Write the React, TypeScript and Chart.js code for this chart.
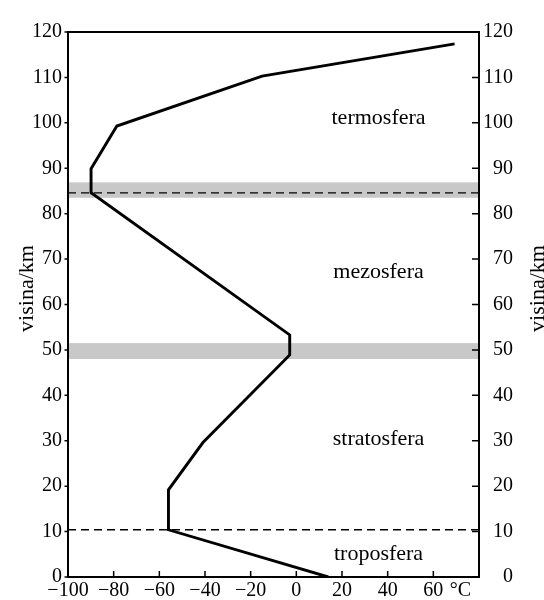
import React, { useEffect, useRef } from 'react';
import Chart from 'chart.js/auto';

// temperature profile of the atmosphere (°C vs km)
const temps = [14, -56, -56, -40.9, -2.9, -2.9, -89.9, -89.9, -78.6, -15, 69.3];
const heights = [0, 10.4, 19.2, 29.6, 48.9, 53.3, 84.6, 89.9, 99.3, 110.3, 117.4];

// grey transition bands (km)
const bandLow = [83.5, 48.0];
const bandHigh = [86.9, 51.5];
// dashed boundaries (km)
const dashedHeights = [84.6, 10.4];

// layer names and where they sit (°C, km baseline)
const layerNames = ['termosfera', 'mezosfera', 'stratosfera', 'troposfera'];
const layerTemps = [36, 36, 36, 36];
const layerHeights = [99.7, 65.8, 29.1, 3.8];

const axisTitle = 'visina/km';
const unitLabel = '°C';

const FONT = '"Liberation Serif", "Times New Roman", serif';

const atmospherePlugin = {
  id: 'atmosphere',
  beforeDatasetsDraw(chart: any) {
    const { ctx, chartArea: a, scales } = chart;
    const y = scales.y;
    ctx.save();
    ctx.fillStyle = '#c8c8c8';
    bandLow.forEach((lo, i) => {
      const top = y.getPixelForValue(bandHigh[i]);
      const bottom = y.getPixelForValue(lo);
      ctx.fillRect(a.left, top, a.right - a.left, bottom - top);
    });
    ctx.strokeStyle = '#000';
    ctx.lineWidth = 1.3;
    ctx.setLineDash([8, 5]);
    dashedHeights.forEach((h) => {
      const py = y.getPixelForValue(h);
      ctx.beginPath();
      ctx.moveTo(a.left, py);
      ctx.lineTo(a.right, py);
      ctx.stroke();
    });
    ctx.restore();
  },
  afterDatasetsDraw(chart: any) {
    const { ctx, chartArea: a, scales } = chart;
    const { x, y, y2 } = scales;
    ctx.save();
    ctx.strokeStyle = '#000';
    ctx.lineWidth = 2;
    ctx.strokeRect(a.left, a.top, a.right - a.left, a.bottom - a.top);

    ctx.lineWidth = 1.5;
    ctx.beginPath();
    x.ticks.forEach((t: any) => {
      const px = x.getPixelForValue(t.value);
      ctx.moveTo(px, a.bottom);
      ctx.lineTo(px, a.bottom - 6);
    });
    y.ticks.forEach((t: any) => {
      const py = y.getPixelForValue(t.value);
      ctx.moveTo(a.left - 3.5, py);
      ctx.lineTo(a.left, py);
    });
    y2.ticks.forEach((t: any) => {
      const py = y2.getPixelForValue(t.value);
      ctx.moveTo(a.right - 7, py);
      ctx.lineTo(a.right, py);
    });
    ctx.stroke();

    ctx.fillStyle = '#000';
    ctx.font = `22px ${FONT}`;
    ctx.textAlign = 'center';
    ctx.textBaseline = 'alphabetic';
    layerNames.forEach((name, i) => {
      ctx.fillText(name, x.getPixelForValue(layerTemps[i]), y.getPixelForValue(layerHeights[i]));
    });

    ctx.font = `20px ${FONT}`;
    ctx.textBaseline = 'middle';
    ctx.fillText(unitLabel, x.getPixelForValue(80) - 18.5, a.bottom + 14);

    ctx.font = `22px ${FONT}`;
    ctx.textBaseline = 'alphabetic';
    const midY = (a.top + a.bottom) / 2 - 16;
    [33, chart.width - 0.5].forEach((tx) => {
      ctx.save();
      ctx.translate(tx, midY);
      ctx.rotate(-Math.PI / 2);
      ctx.fillText(axisTitle, 0, 0);
      ctx.restore();
    });
    ctx.restore();
  },
};

const tickFont = { family: FONT, size: 20 };

const App = () => {
  const canvasRef = useRef<HTMLCanvasElement | null>(null);
  const chartRef = useRef<Chart | null>(null);

  useEffect(() => {
    if (!canvasRef.current) return;
    if (chartRef.current) chartRef.current.destroy();

    chartRef.current = new Chart(canvasRef.current, {
      type: 'line',
      data: {
        datasets: [
          {
            data: temps.map((t, i) => ({ x: t, y: heights[i] })),
            borderColor: '#000',
            borderWidth: 2.9,
            pointRadius: 0,
            tension: 0,
            fill: false,
          },
        ],
      },
      options: {
        animation: false,
        responsive: true,
        maintainAspectRatio: false,
        layout: { padding: { top: 32, right: 31, bottom: 0, left: 0 } },
        plugins: { legend: { display: false }, tooltip: { enabled: false } },
        scales: {
          x: {
            type: 'linear',
            position: 'bottom',
            min: -100,
            max: 80,
            grid: { display: false, drawTicks: false },
            border: { display: false },
            ticks: {
              stepSize: 20,
              padding: 2,
              color: '#000',
              font: tickFont,
              maxRotation: 0,
              autoSkip: false,
              callback: (v: any) => (v === 80 ? '' : v < 0 ? `\u2212${Math.abs(v)}` : `${v}`),
            },
            afterFit: (s: any) => {
              s.height = 23;
            },
          },
          y: {
            type: 'linear',
            position: 'left',
            min: 0,
            max: 120,
            grid: { display: false, drawTicks: false },
            border: { display: false },
            ticks: { stepSize: 10, padding: 6, color: '#000', font: tickFont },
            afterFit: (s: any) => {
              s.width = 68;
            },
          },
          y2: {
            type: 'linear',
            position: 'right',
            min: 0,
            max: 120,
            grid: { display: false, drawTicks: false },
            border: { display: false },
            ticks: { stepSize: 10, crossAlign: 'far', color: '#000', font: tickFont },
            afterFit: (s: any) => {
              s.width = 34;
            },
          },
        },
      },
      plugins: [atmospherePlugin],
    });

    return () => {
      if (chartRef.current) {
        chartRef.current.destroy();
        chartRef.current = null;
      }
    };
  }, []);

  return (
    <div style={{ position: 'fixed', left: 0, top: 0, width: 544, height: 600, background: '#fff' }}>
      <canvas ref={canvasRef} />
    </div>
  );
};

export default App;
